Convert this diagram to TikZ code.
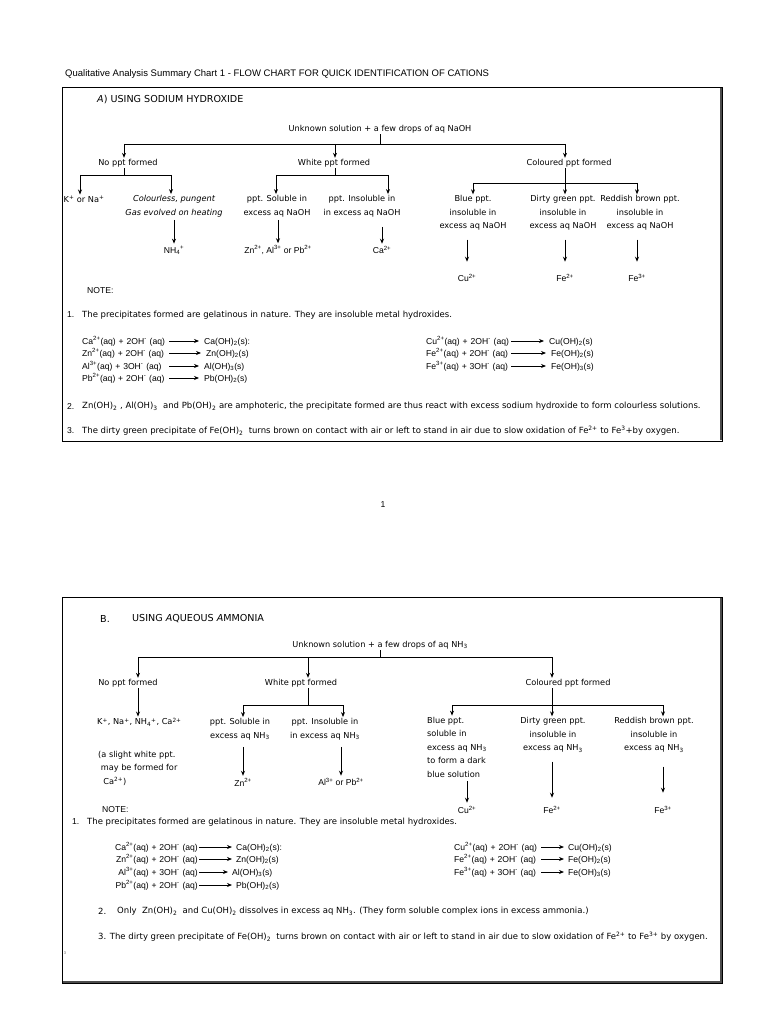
\documentclass[tikz,border=0pt]{standalone}
\usepackage{fontspec}
\setmainfont{Liberation Sans}
\newfontfamily\cfont{DejaVu Sans}
\usetikzlibrary{arrows.meta}
\newcommand{\supx}[1]{\textsuperscript{#1}}
\newcommand{\subx}[1]{\textsubscript{#1}}
\begin{document}
\begin{tikzpicture}[x=1pt,y=-1pt,
  tx/.style={font=\cfont\fontsize{8.2}{13.5}\selectfont, inner sep=1pt},
  nx/.style={font=\cfont\fontsize{8.5}{13.5}\selectfont, inner sep=1pt, anchor=west},
  ttl/.style={font=\cfont\fontsize{9.6}{12}\selectfont, inner sep=1pt, anchor=west},
  ax/.style={font=\fontsize{8.6}{13.5}\selectfont, inner sep=1pt},
  ml/.style={tx, align=center},
  hd/.style={font=\fontsize{9.5}{11}\selectfont, inner sep=0pt, anchor=west},
  lt/.style={tx, anchor=west},
  la/.style={ax, anchor=west},
  arr/.style={-{Stealth[length=5pt,width=4pt]}, line width=0.8pt},
  ln/.style={line width=0.8pt},
  boxline/.style={line width=0.9pt},
  shade/.style={line width=2pt, black!70},
  eqL/.style={ax, anchor=base west, yshift=-3pt, text width=#1, align=left},
  eqR/.style={ax, anchor=base east, yshift=-3pt, text width=#1, align=right},
  eqP/.style={ax, anchor=base west, yshift=-3pt}
]
\useasboundingbox[fill=white] (0,0) rectangle (768,1024);

% ---------------- Header ----------------
\node[hd] (hdr) at (65,74) {Qualitative Analysis Summary Chart 1 - FLOW CHART FOR QUICK IDENTIFICATION OF CATIONS};

% ---------------- Box A ----------------
\draw[boxline] (62,87) rectangle (722,441);
\draw[shade] (721,88) -- (721,440);
\node[ttl] (titA) at (96,99) {\textit{A}) USING SODIUM HYDROXIDE};

\node[tx] (rootA) at (380,129) {Unknown solution + a few drops of aq NaOH};
\node[tx] (noA) at (128,163) {No ppt formed};
\node[tx] (whA) at (334,163) {White ppt formed};
\node[tx] (coA) at (569,163) {Coloured ppt formed};

\node[tx] (kA) at (84,199) {K\supx{+} or Na\supx{+}};
\node[ml] (gasA) at (174,206) {\itshape Colourless, pungent\\\itshape Gas evolved on heating};
\node[ax] (nh4A) at (174,250) {NH\subx{4}\supx{+}};
\node[ml] (solA) at (277,206) {ppt. Soluble in\\excess aq NaOH};
\node[ax] (znA) at (278,250) {Zn\supx{2+}, Al\supx{3+} or Pb\supx{2+}};
\node[ml] (insA) at (362,206) {ppt. Insoluble in\\in excess aq NaOH};
\node[ax] (caA) at (382,250) {Ca\supx{2+}};

\node[ml] (blueA) at (473,213) {Blue ppt.\\insoluble in\\excess aq NaOH};
\node[ml] (dirtyA) at (563,213) {Dirty green ppt.\\insoluble in\\excess aq NaOH};
\node[ml] (redA) at (640,213) {Reddish brown ppt.\\insoluble in\\excess aq NaOH};
\node[ax] (cuA) at (467,278) {Cu\supx{2+}};
\node[ax] (fe2A) at (565,278) {Fe\supx{2+}};
\node[ax] (fe3A) at (637,278) {Fe\supx{3+}};

% tree A connectors
\coordinate (jA) at (380,144);
\coordinate (bA1) at (124,144);
\coordinate (bA2) at (335,144);
\coordinate (bA3) at (565,144);
\draw[ln] (rootA.south) -- (jA);
\draw[ln] (bA1) -- (bA3);
\draw[arr] (bA1) -- (bA1 |- noA.north);
\draw[arr] (bA2) -- (bA2 |- whA.north);
\draw[arr] (bA3) -- (bA3 |- coA.north);

\coordinate (jNA) at (124,175);
\coordinate (cNA1) at (80,175);
\coordinate (cNA2) at (171,175);
\draw[ln] (jNA |- noA.south) -- (jNA);
\draw[ln] (cNA1) -- (cNA2);
\draw[arr] (cNA1) -- (cNA1 |- kA.north);
\draw[arr] (cNA2) -- (cNA2 |- gasA.north);

\coordinate (jWA) at (335,175);
\coordinate (cWA1) at (276,175);
\coordinate (cWA2) at (388,175);
\draw[ln] (jWA |- whA.south) -- (jWA);
\draw[ln] (cWA1) -- (cWA2);
\draw[arr] (cWA1) -- (cWA1 |- solA.north);
\draw[arr] (cWA2) -- (cWA2 |- insA.north);

\coordinate (jCA) at (565,183);
\coordinate (cCA1) at (473,183);
\coordinate (cCA3) at (637,183);
\draw[ln] (jCA |- coA.south) -- (jCA);
\draw[ln] (cCA1) -- (cCA3);
\draw[arr] (cCA1) -- (cCA1 |- blueA.north);
\draw[arr] (jCA) -- (jCA |- dirtyA.north);
\draw[arr] (cCA3) -- (cCA3 |- redA.north);

\draw[arr, shorten <=2pt, shorten >=1pt] (gasA.south -| nh4A) -- (nh4A.north);
\draw[arr, shorten <=2pt, shorten >=1pt] (solA.south -| znA) -- (znA.north);
\draw[arr, shorten <=9pt, shorten >=1pt] (caA.north |- insA.south) -- (caA.north);
\draw[arr, shorten <=8pt, shorten >=11pt] (cuA.north |- blueA.south) -- (cuA.north);
\draw[arr, shorten <=8pt, shorten >=11pt] (fe2A.north |- dirtyA.south) -- (fe2A.north);
\draw[arr, shorten <=8pt, shorten >=11pt] (fe3A.north |- redA.south) -- (fe3A.north);

% notes A
\node[la] (noteA) at (86,291) {NOTE:};
\node[la] (n1A) at (66,315) {1.};
\node[nx] (t1A) at (81,315) {The precipitates formed are gelatinous in nature. They are insoluble metal hydroxides.};

\node[eqL=86pt] (rA1) at (81,341) {Ca\supx{2+}(aq) + 2OH\supx{-} (aq)};
\node[eqL=86pt] (rA2) at (81,353) {Zn\supx{2+}(aq) + 2OH\supx{-} (aq)};
\node[eqL=86pt] (rA3) at (81,366) {Al\supx{3+}(aq) + 3OH\supx{-} (aq)};
\node[eqL=86pt] (rA4) at (81,378) {Pb\supx{2+}(aq) + 2OH\supx{-} (aq)};
\node[eqP] (pA1) at (203,341) {Ca(OH)\subx{2}(s):};
\node[eqP] (pA2) at (205,353) {Zn(OH)\subx{2}(s)};
\node[eqP] (pA3) at (203,366) {Al(OH)\subx{3}(s)};
\node[eqP] (pA4) at (203,378) {Pb(OH)\subx{2}(s)};
\foreach \i in {1,2,3,4} \draw[arr, shorten >=4pt] ([yshift=3pt]rA\i.base east) -- ([yshift=3pt]pA\i.base west);

\node[eqL=84pt] (rA5) at (425,341) {Cu\supx{2+}(aq) + 2OH\supx{-} (aq)};
\node[eqL=84pt] (rA6) at (425,353) {Fe\supx{2+}(aq) + 2OH\supx{-} (aq)};
\node[eqL=84pt] (rA7) at (425,366) {Fe\supx{3+}(aq) + 3OH\supx{-} (aq)};
\node[eqP] (pA5) at (548,341) {Cu(OH)\subx{2}(s)};
\node[eqP] (pA6) at (550,353) {Fe(OH)\subx{2}(s)};
\node[eqP] (pA7) at (550,366) {Fe(OH)\subx{3}(s)};
\foreach \i in {5,6,7} \draw[arr, shorten >=4pt] ([yshift=3pt]rA\i.base east) -- ([yshift=3pt]pA\i.base west);

\node[la] (n2A) at (66,406) {2.};
\node[nx] (t2A) at (81,406) {Zn(OH)\subx{2} , Al(OH)\subx{3}\ \ and Pb(OH)\subx{2} are amphoteric, the precipitate formed are thus react with excess sodium hydroxide to form colourless solutions.};
\node[la] (n3A) at (66,431) {3.};
\node[nx] (t3A) at (81,431) {The dirty green precipitate of Fe(OH)\subx{2}\ \ turns brown on contact with air or left to stand in air due to slow oxidation of Fe\supx{2+} to Fe\supx{3}+by oxygen.};

\node[ax] (page1) at (383,505) {1};

% ---------------- Box B ----------------
\draw[boxline] (62,597) rectangle (722,983);
\draw[shade] (721,598) -- (721,982) -- (63,982);
\node[ttl] (bB) at (99,619) {B.};
\node[ttl] (titB) at (131,619) {USING \textit{A}QUEOUS \textit{A}MMONIA};

\node[tx] (rootB) at (380,645) {Unknown solution + a few drops of aq NH\subx{3}};
\node[tx] (noB) at (128,683) {No ppt formed};
\node[tx] (whB) at (301,683) {White ppt formed};
\node[tx] (coB) at (568,683) {Coloured ppt formed};

\node[lt] (kB) at (96,722) {K\supx{+}, Na\supx{+}, NH\subx{4}\supx{+}, Ca\supx{2+}};
\node[tx, anchor=west, align=left] (slB) at (97,768) {(a slight white ppt.\\\ may be formed for\\\ \ Ca\supx{2+})};
\node[ml] (solB) at (240,729) {ppt. Soluble in\\excess aq NH\subx{3}};
\node[ml] (insB) at (325,729) {ppt. Insoluble in\\in excess aq NH\subx{3}};
\node[ax] (znB) at (243,782) {Zn\supx{2+}};
\node[ax] (alB) at (341,782) {Al\supx{3+} or Pb\supx{2+}};

\node[tx, anchor=west, align=left] (blueB) at (426,747) {Blue ppt.\\soluble in\\excess aq NH\subx{3}\\to form a dark\\blue solution};
\node[ml] (dirtyB) at (553,735) {Dirty green ppt.\\insoluble in\\excess aq NH\subx{3}};
\node[ml] (redB) at (654,735) {Reddish brown ppt.\\insoluble in\\excess aq NH\subx{3}};
\node[ax] (cuB) at (467,810) {Cu\supx{2+}};
\node[ax] (fe2B) at (552,810) {Fe\supx{2+}};
\node[ax] (fe3B) at (663,810) {Fe\supx{3+}};

% tree B connectors
\coordinate (jB) at (380,657);
\coordinate (bB1) at (138,657);
\coordinate (bB2) at (308,657);
\coordinate (bB3) at (552,657);
\draw[ln] (rootB.south) -- (jB);
\draw[ln] (bB1) -- (bB3);
\draw[arr] (bB1) -- (bB1 |- noB.north);
\draw[arr] (bB2) -- (bB2 |- whB.north);
\draw[arr] (bB3) -- (bB3 |- coB.north);

\draw[arr] (bB1 |- noB.south) -- (bB1 |- kB.north);

\coordinate (jWB) at (308,705);
\coordinate (cWB1) at (243,705);
\coordinate (cWB2) at (343,705);
\draw[ln] (jWB |- whB.south) -- (jWB);
\draw[ln] (cWB1) -- (cWB2);
\draw[arr] (cWB1) -- (cWB1 |- solB.north);
\draw[arr] (cWB2) -- (cWB2 |- insB.north);

\coordinate (jCB) at (552,705);
\coordinate (cCB1) at (452,705);
\coordinate (cCB3) at (663,705);
\draw[ln] (jCB |- coB.south) -- (jCB);
\draw[ln] (cCB1) -- (cCB3);
\draw[arr] (cCB1) -- (cCB1 |- blueB.north);
\draw[arr] (jCB) -- (jCB |- dirtyB.north);
\draw[arr] (cCB3) -- (cCB3 |- redB.north);

\draw[arr, shorten <=6pt, shorten >=1pt] (znB.north |- solB.south) -- (znB.north);
\draw[arr, shorten <=6pt, shorten >=1pt] (alB.north |- insB.south) -- (alB.north);
\draw[arr, shorten <=3pt, shorten >=2pt] (cuB.north |- blueB.south) -- (cuB.north);
\draw[arr, shorten <=8pt, shorten >=7pt] (fe2B.north |- dirtyB.south) -- (fe2B.north);
\draw[arr, shorten <=13pt, shorten >=12pt] (fe3B.north |- redB.south) -- (fe3B.north);

% notes B
\node[la] (noteB) at (101,810) {NOTE:};
\node[la] (n1B) at (71,822) {1.};
\node[nx] (t1B) at (86,822) {The precipitates formed are gelatinous in nature. They are insoluble metal hydroxides.};

\node[eqR=90pt] (rB1) at (199,847) {Ca\supx{2+}(aq) + 2OH\supx{-} (aq)};
\node[eqR=90pt] (rB2) at (199,859) {Zn\supx{2+}(aq) + 2OH\supx{-} (aq)};
\node[eqR=90pt] (rB3) at (199,872) {Al\supx{3+}(aq) + 3OH\supx{-} (aq)};
\node[eqR=90pt] (rB4) at (199,885) {Pb\supx{2+}(aq) + 2OH\supx{-} (aq)};
\node[eqP] (pB1) at (235,847) {Ca(OH)\subx{2}(s):};
\node[eqP] (pB2) at (235,859) {Zn(OH)\subx{2}(s)};
\node[eqP] (pB3) at (231,872) {Al(OH)\subx{3}(s)};
\node[eqP] (pB4) at (235,885) {Pb(OH)\subx{2}(s)};
\foreach \i in {1,2,3,4} \draw[arr, shorten >=3pt] ([yshift=3pt]rB\i.base east) -- ([yshift=3pt]pB\i.base west);

\node[eqL=86pt] (rB5) at (453,847) {Cu\supx{2+}(aq) + 2OH\supx{-} (aq)};
\node[eqL=86pt] (rB6) at (453,859) {Fe\supx{2+}(aq) + 2OH\supx{-} (aq)};
\node[eqL=86pt] (rB7) at (453,872) {Fe\supx{3+}(aq) + 3OH\supx{-} (aq)};
\node[eqP] (pB5) at (567,847) {Cu(OH)\subx{2}(s)};
\node[eqP] (pB6) at (567,859) {Fe(OH)\subx{2}(s)};
\node[eqP] (pB7) at (567,872) {Fe(OH)\subx{3}(s)};
\foreach \i in {5,6,7} \draw[arr, shorten >=3pt] ([yshift=3pt]rB\i.base east) -- ([yshift=3pt]pB\i.base west);

\node[nx] (n2B) at (97,911) {2.};
\node[nx] (t2B) at (116,911) {Only\ \ Zn(OH)\subx{2}\ \ and Cu(OH)\subx{2} dissolves in excess aq NH\subx{3}. (They form soluble complex ions in excess ammonia.)};
\node[nx] (t3B) at (97,937) {3. The dirty green precipitate of Fe(OH)\subx{2}\ \ turns brown on contact with air or left to stand in air due to slow oxidation of Fe\supx{2+} to Fe\supx{3+} by oxygen.};
\node[font=\fontsize{4}{5}\selectfont, text=black!60, inner sep=0pt] (tiny) at (65,953) {3};
\end{tikzpicture}
\end{document}
